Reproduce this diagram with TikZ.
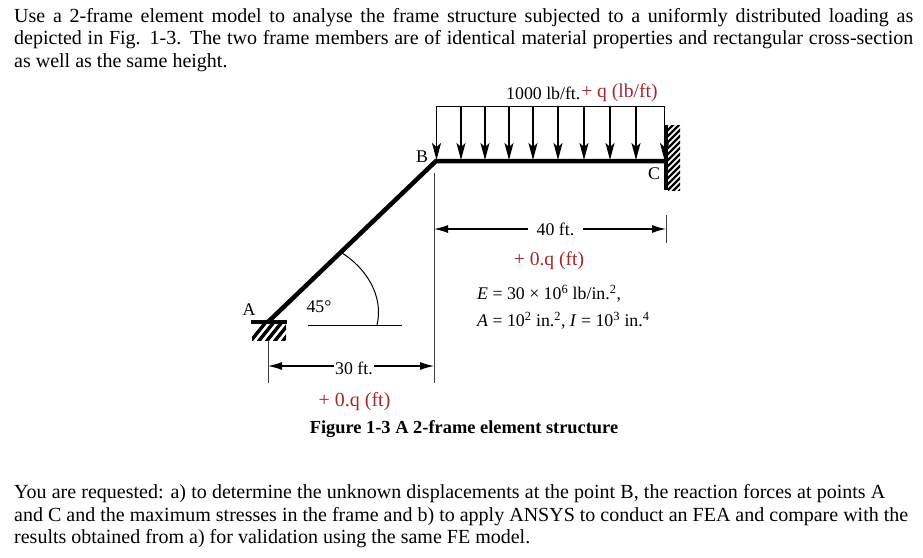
\documentclass[tikz,border=0pt]{standalone}
\usepackage{fontspec}
\setmainfont{Liberation Serif}
\usetikzlibrary{positioning}
\usetikzlibrary{arrows.meta}
\definecolor{darkred}{HTML}{A5282B}
\newcommand{\fullline}[2]{\makebox[#1][s]{#2}}
\begin{document}
\begin{tikzpicture}[x=1pt,y=-1pt]

	\tikzstyle{para}=[inner sep=0pt,align=left,anchor=north west,font=\fontsize{20}{22.5}\selectfont]
	\tikzstyle{lab}=[inner sep=0pt,font=\fontsize{17.8}{20}\selectfont]
	\tikzstyle{red lab}=[lab,text=darkred,font=\fontsize{19.6}{22}\selectfont]
	\tikzstyle{dim}=[line width=1.2pt,-{Latex[length=14pt,width=8pt]}]
	\tikzstyle{load}=[line width=1.2pt,-{Stealth[length=17pt,width=9pt,inset=4pt]}]
	\tikzstyle{member}=[line width=4.5pt]
	\tikzstyle{thin line}=[line width=1pt]

	\useasboundingbox (0,0) rectangle (923,557);

	\node [para] (top) at (14,8) {\fullline{899pt}{Use a 2-frame element model to analyse the frame structure subjected to a uniformly distributed loading as}\\
		\fullline{899pt}{depicted in Fig. 1-3. The two frame members are of identical material properties and rectangular cross-section}\\
		as well as the same height.};
	\node [para] (req) at (14,484.5) {\fullline{871pt}{You are requested: a) to determine the unknown displacements at the point B, the reaction forces at points A}\\
		\fullline{894pt}{and C and the maximum stresses in the frame and b) to apply ANSYS to conduct an FEA and compare with the}\\
		results obtained from a) for validation using the same FE model.};

	\coordinate (a) at (268,322);
	\coordinate (b) at (436,161);
	\coordinate (c) at (665,161);

	% wall at C
	\begin{scope}
		\clip (668,125) rectangle (680,190);
		\foreach \y in {120,126,...,204}
			\draw [line width=2.2pt] (666,\y) -- (682,\y-16);
	\end{scope}
	\coordinate (c1) at (666,125);
	\coordinate (c2) at (666,190);
	\draw [line width=4pt] (c1) -- (c2);

	% support at A
	\begin{scope}
		\clip (252,324) rectangle (286,340);
		\foreach \x in {250,258,...,306}
			\draw [line width=3.4pt] (\x,342) -- (\x+16,322);
	\end{scope}
	\coordinate (a1) at (251,322);
	\coordinate (a2) at (287,322);
	\draw [line width=4pt] (a1) -- (a2);

	\draw [member] (a) -- (b) -- (c);

	% distributed load
	\coordinate (q1) at (436,106);
	\coordinate (q2) at (664.5,106);
	\draw [thin line] (q1) -- (q2);
	\foreach \x [count=\i] in {436.5,461,485,509,533,558,584,610,636,664.5} {
		\coordinate (s\i) at (\x,106);
		\coordinate (e\i) at (\x,160);
		\draw [load] (s\i) -- (e\i);
	}

	\node [lab] (la) at (249,310) {A};
	\node [lab] (lb) at (422,157) {B};
	\node [lab] (lc) at (654,174) {C};
	\node [lab] (ang) at (319,307) {45\textdegree};

	\node [lab,anchor=west] (load1) at (506,93) {1000 lb/ft.};
	\node [red lab,anchor=west,font=\fontsize{19.6}{22}\selectfont] (load2) [right=0.5pt of load1] {+ q (lb/ft)};

	% angle
	\coordinate (h1) at (308,325);
	\coordinate (h2) at (402,325);
	\coordinate (r1) at (342,253);
	\coordinate (r2) at (377,325);
	\draw [thin line] (h1) -- (h2);
	\draw [thin line] (r1) .. controls (366,268) and (384,296) .. (r2);

	% dimensions
	\coordinate (x1t) at (268,340);
	\coordinate (x1b) at (268,383);
	\coordinate (x2t) at (434,173);
	\coordinate (x2b) at (434,383);
	\coordinate (x3t) at (666,215);
	\coordinate (x3b) at (666,243);
	\draw [thin line,black!75] (x1t) -- (x1b);
	\draw [thin line,black!75] (x2t) -- (x2b);
	\draw [thin line,black!75] (x3t) -- (x3b);

	\node [lab,inner xsep=1pt] (d30) at (354,368) {30 ft.};
	\coordinate (d30l) at (268,366);
	\coordinate (d30r) at (434,366);
	\draw [dim] (d30.west |- d30l) -- (d30l);
	\draw [dim] (d30.east |- d30r) -- (d30r);

	\node [lab,inner xsep=9pt] (d40) at (555.5,229.5) {40 ft.};
	\coordinate (d40l) at (434,229);
	\coordinate (d40r) at (666,229);
	\draw [dim] (d40.west |- d40l) -- (d40l);
	\draw [dim] (d40.east |- d40r) -- (d40r);

	\node [red lab] (q40) at (549,261) {+ 0.q (ft)};
	\node [red lab,font=\fontsize{20}{22}\selectfont] (q30) at (354.5,402) {+ 0.q (ft)};

	\node [lab,anchor=base west] (prop1) at (477,299.5) {\textit{E} = 30 × 10\textsuperscript{6} lb/in.\textsuperscript{2},};
	\node [lab,anchor=base west] (prop2) at (477,326.5) {\textit{A} = 10\textsuperscript{2} in.\textsuperscript{2}, \textit{I} = 10\textsuperscript{3} in.\textsuperscript{4}};

	\node [lab,font=\bfseries\fontsize{18.4}{20}\selectfont] (fig) at (464,429) {Figure 1-3 A 2-frame element structure};

\end{tikzpicture}
\end{document}
